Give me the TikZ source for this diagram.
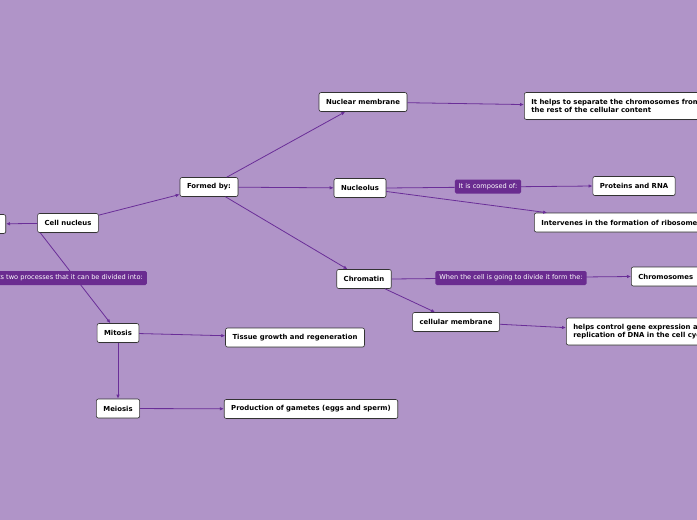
\documentclass[tikz,border=0pt]{standalone}
\usepackage{fontspec}
\setmainfont{DejaVu Sans}
\usetikzlibrary{arrows.meta,shadows}
\definecolor{bg}{HTML}{B094C8}
\definecolor{edge}{HTML}{6A2E98}
\definecolor{lab}{HTML}{6A2C90}
\tikzset{
 box/.style={draw=black!80,fill=white,rounded corners=2pt,line width=0.6pt,font=\fontsize{6.9}{8.3}\selectfont\bfseries,inner xsep=7pt,inner ysep=0pt,minimum height=19pt,drop shadow={shadow xshift=0.6pt,shadow yshift=-0.6pt,opacity=0.4}},
 lbl/.style={fill=lab,text=white,rounded corners=1.5pt,font=\fontsize{6.6}{7}\selectfont,inner xsep=4pt,minimum height=14pt,inner ysep=0pt},
 conn/.style={draw=edge,line width=0.8pt,-{Latex[length=4pt,width=3.5pt]}}
}
\begin{document}
\begin{tikzpicture}[x=1pt,y=-1pt]
\fill[bg] (0,0) rectangle (697,520);
\useasboundingbox (0,0) rectangle (697,520);
\node[box,anchor=east,minimum width=30pt] (left) at (6,224) {};
\node[box] (cn) at (68,223) {Cell nucleus};
\node[box] (fb) at (209,187) {Formed by:};
\node[box] (nm) at (363,102) {Nuclear membrane};
\node[box,anchor=west,minimum height=27pt,align=left] (ih) at (524,106) {It helps to separate the chromosomes from\\the rest of the cellular content};
\node[box] (nu) at (360,188) {Nucleolus};
\node[box] (pr) at (634,186) {Proteins and RNA};
\node[box,anchor=west] (in) at (534,222.5) {Intervenes in the formation of ribosomes};
\node[box] (ch) at (364,279) {Chromatin};
\node[box,anchor=west] (cs) at (631,276.5) {Chromosomes};
\node[box] (cm) at (456,322) {cellular membrane};
\node[box,anchor=west,minimum height=27pt,align=left] (hc) at (566,331.5) {helps control gene expression and\\replication of DNA in the cell cycle};
\node[box] (mi) at (118,333) {Mitosis};
\node[box] (ti) at (295,337.5) {Tissue growth and regeneration};
\node[box] (me) at (118,408.5) {Meiosis};
\node[box] (pg) at (311,409) {Production of gametes (eggs and sperm)};
\draw[conn] (cn) -- (left);
\draw[conn] (cn) -- (fb);
\draw[conn] (cn.south west)++(3,0) coordinate (cns) -- (mi);
\draw[conn] (fb) -- (nm);
\draw[conn] (fb) -- (nu);
\draw[conn] (fb) -- (ch);
\draw[conn] (nm) -- (ih);
\draw[conn] (nu.east) -- (pr.west);
\draw[conn] (nu) -- (in);
\draw[conn] (ch.east) -- (cs.west);
\draw[conn] (ch) -- (cm);
\draw[conn] (cm) -- (hc);
\draw[conn] (mi) -- (ti);
\draw[conn] (mi) -- (me);
\draw[conn] (me) -- (pg);
\node[lbl] (l1) at (488,186.5) {It is composed of:};
\node[lbl] (l2) at (511,278) {When the cell is going to divide it form the:};
\node[lbl,anchor=east] (l3) at (147,278) {There are its two processes that it can be divided into:};
\end{tikzpicture}
\end{document}
